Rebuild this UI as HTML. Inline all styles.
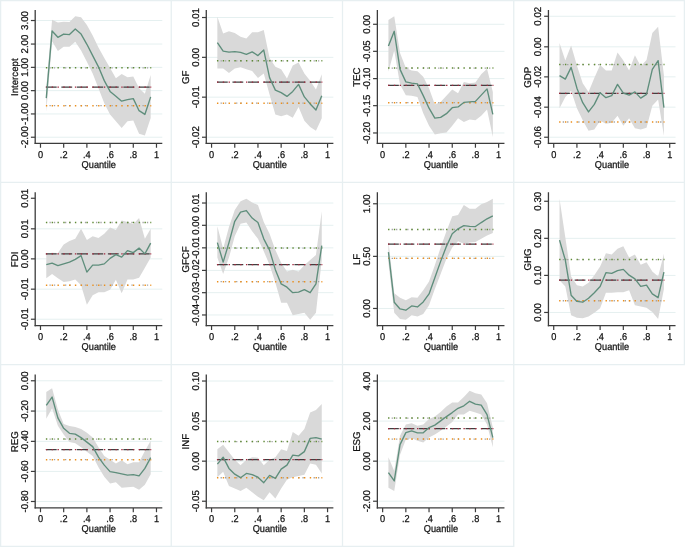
<!DOCTYPE html><html><head><meta charset="utf-8"><style>html,body{margin:0;padding:0;background:#fff;}svg{display:block}text{font-family:"Liberation Sans",Arial,Helvetica,sans-serif;fill:#111;stroke:#111;stroke-width:0.25px;text-rendering:geometricPrecision}</style></head><body>
<svg width="685" height="547" viewBox="0 0 685 547">
<rect width="685" height="547" fill="#fff"/>
<line x1="0.6" y1="0" x2="0.6" y2="547" stroke="#e7eff1" stroke-width="1.3"/>
<line x1="171.25" y1="0" x2="171.25" y2="547" stroke="#e7eff1" stroke-width="1.3"/>
<line x1="342.5" y1="0" x2="342.5" y2="547" stroke="#e7eff1" stroke-width="1.3"/>
<line x1="513.75" y1="0" x2="513.75" y2="547" stroke="#e7eff1" stroke-width="1.3"/>
<line x1="684.4" y1="0" x2="684.4" y2="364.67" stroke="#e7eff1" stroke-width="1.3"/>
<line x1="0" y1="0.6" x2="685" y2="0.6" stroke="#e7eff1" stroke-width="1.3"/>
<line x1="0" y1="182.33" x2="685" y2="182.33" stroke="#e7eff1" stroke-width="1.3"/>
<line x1="0" y1="364.67" x2="685" y2="364.67" stroke="#e7eff1" stroke-width="1.3"/>
<line x1="0" y1="546.3" x2="513.75" y2="546.3" stroke="#e7eff1" stroke-width="1.3"/>
<g>
<line x1="36.2" y1="20.52" x2="162.3" y2="20.52" stroke="#e5f0f0" stroke-width="1"/>
<line x1="36.2" y1="44.06" x2="162.3" y2="44.06" stroke="#e5f0f0" stroke-width="1"/>
<line x1="36.2" y1="67.35" x2="162.3" y2="67.35" stroke="#e5f0f0" stroke-width="1"/>
<line x1="36.2" y1="90.64" x2="162.3" y2="90.64" stroke="#e5f0f0" stroke-width="1"/>
<line x1="36.2" y1="113.94" x2="162.3" y2="113.94" stroke="#e5f0f0" stroke-width="1"/>
<line x1="36.2" y1="137.23" x2="162.3" y2="137.23" stroke="#e5f0f0" stroke-width="1"/>
<polygon fill="#d9d9d9" points="46.28,88.14 52.08,19.77 57.88,22.53 63.68,21.77 69.48,22.02 75.28,16.26 81.08,17.27 86.88,25.03 92.68,35.55 98.48,47.57 104.28,58.09 110.08,68.11 115.88,78.37 121.68,74.12 127.48,77.37 133.28,76.62 139.08,88.14 144.88,93.65 150.68,75.12 150.68,117.94 144.88,135.47 139.08,133.72 133.28,120.45 127.48,121.2 121.68,127.96 115.88,121.2 110.08,114.44 104.28,103.17 98.48,88.14 92.68,73.61 86.88,61.84 81.08,50.57 75.28,41.81 69.48,46.82 63.68,46.82 57.88,51.08 52.08,41.31 46.28,111.93"/>
<line x1="45.88" y1="67.85" x2="151.28" y2="67.85" stroke="#a2a2a2" stroke-width="1.4" stroke-dasharray="1.3 3.1 1.3 9.8" stroke-dashoffset="-3.6"/>
<line x1="45.88" y1="67.85" x2="151.28" y2="67.85" stroke="#5f8a36" stroke-width="1.5" stroke-dasharray="1.4 4.4"/>
<line x1="45.88" y1="105.67" x2="151.28" y2="105.67" stroke="#a2a2a2" stroke-width="1.4" stroke-dasharray="1.3 3.1 1.3 9.8" stroke-dashoffset="-3.6"/>
<line x1="45.88" y1="105.67" x2="151.28" y2="105.67" stroke="#ec8f1c" stroke-width="1.5" stroke-dasharray="1.4 4.4"/>
<line x1="45.88" y1="87.14" x2="151.28" y2="87.14" stroke="#404040" stroke-width="1.35" stroke-dasharray="10.8 4.7"/>
<line x1="45.88" y1="87.14" x2="151.28" y2="87.14" stroke="#a3283e" stroke-width="1.4" stroke-dasharray="1.4 4.4"/>
<polyline fill="none" stroke="#5f8e7c" stroke-width="1.35" stroke-linejoin="round" points="46.28,98.16 52.08,31.04 57.88,37.3 63.68,34.05 69.48,34.55 75.28,29.04 81.08,34.05 86.88,44.31 92.68,55.58 98.48,66.85 104.28,80.63 110.08,91.4 115.88,96.15 121.68,101.16 127.48,99.66 133.28,98.66 139.08,110.68 144.88,114.44 150.68,96.91"/>
<line x1="35.2" y1="10" x2="35.2" y2="144.05" stroke="#3c3c3c" stroke-width="1.3"/>
<line x1="34.6" y1="143.45" x2="162.3" y2="143.45" stroke="#3c3c3c" stroke-width="1.3"/>
<line x1="30.9" y1="20.52" x2="35.2" y2="20.52" stroke="#3c3c3c" stroke-width="1.2"/>
<text transform="translate(27.5,20.52) rotate(-90) scale(0.985,1)" text-anchor="middle" font-size="9.8">3.00</text>
<line x1="30.9" y1="44.06" x2="35.2" y2="44.06" stroke="#3c3c3c" stroke-width="1.2"/>
<text transform="translate(27.5,44.06) rotate(-90) scale(0.985,1)" text-anchor="middle" font-size="9.8">2.00</text>
<line x1="30.9" y1="67.35" x2="35.2" y2="67.35" stroke="#3c3c3c" stroke-width="1.2"/>
<text transform="translate(27.5,67.35) rotate(-90) scale(0.985,1)" text-anchor="middle" font-size="9.8">1.00</text>
<line x1="30.9" y1="90.64" x2="35.2" y2="90.64" stroke="#3c3c3c" stroke-width="1.2"/>
<text transform="translate(27.5,90.64) rotate(-90) scale(0.985,1)" text-anchor="middle" font-size="9.8">0.00</text>
<line x1="30.9" y1="113.94" x2="35.2" y2="113.94" stroke="#3c3c3c" stroke-width="1.2"/>
<text transform="translate(27.5,113.94) rotate(-90) scale(0.985,1)" text-anchor="middle" font-size="9.8">-1.00</text>
<line x1="30.9" y1="137.23" x2="35.2" y2="137.23" stroke="#3c3c3c" stroke-width="1.2"/>
<text transform="translate(27.5,137.23) rotate(-90) scale(0.985,1)" text-anchor="middle" font-size="9.8">-2.00</text>
<line x1="40.48" y1="143.45" x2="40.48" y2="147.75" stroke="#3c3c3c" stroke-width="1.2"/>
<text transform="translate(40.48,157.7) scale(0.92,1)" text-anchor="middle" font-size="10">0</text>
<line x1="63.68" y1="143.45" x2="63.68" y2="147.75" stroke="#3c3c3c" stroke-width="1.2"/>
<text transform="translate(63.68,157.7) scale(0.92,1)" text-anchor="middle" font-size="10">.2</text>
<line x1="86.88" y1="143.45" x2="86.88" y2="147.75" stroke="#3c3c3c" stroke-width="1.2"/>
<text transform="translate(86.88,157.7) scale(0.92,1)" text-anchor="middle" font-size="10">.4</text>
<line x1="110.08" y1="143.45" x2="110.08" y2="147.75" stroke="#3c3c3c" stroke-width="1.2"/>
<text transform="translate(110.08,157.7) scale(0.92,1)" text-anchor="middle" font-size="10">.6</text>
<line x1="133.28" y1="143.45" x2="133.28" y2="147.75" stroke="#3c3c3c" stroke-width="1.2"/>
<text transform="translate(133.28,157.7) scale(0.92,1)" text-anchor="middle" font-size="10">.8</text>
<line x1="156.48" y1="143.45" x2="156.48" y2="147.75" stroke="#3c3c3c" stroke-width="1.2"/>
<text transform="translate(156.48,157.7) scale(0.92,1)" text-anchor="middle" font-size="10">1</text>
<text transform="translate(98.75,168) scale(0.92,1)" text-anchor="middle" font-size="10">Quantile</text>
<text transform="translate(17.9,77.2) rotate(-90) scale(0.985,1)" text-anchor="middle" font-size="9.8">Intercept</text>
</g>
<g>
<line x1="207.28" y1="17.52" x2="333.38" y2="17.52" stroke="#e5f0f0" stroke-width="1"/>
<line x1="207.28" y1="57.34" x2="333.38" y2="57.34" stroke="#e5f0f0" stroke-width="1"/>
<line x1="207.28" y1="97.16" x2="333.38" y2="97.16" stroke="#e5f0f0" stroke-width="1"/>
<line x1="207.28" y1="137.23" x2="333.38" y2="137.23" stroke="#e5f0f0" stroke-width="1"/>
<polygon fill="#d9d9d9" points="217.36,16.77 223.16,33.54 228.96,31.29 234.76,33.04 240.56,36.8 246.36,38.55 252.16,32.29 257.96,32.29 263.76,30.04 269.56,58.09 275.36,66.85 281.16,69.36 286.96,78.62 292.76,65.6 298.56,62.6 304.36,73.61 310.16,80.63 315.96,89.39 321.76,74.37 321.76,118.19 315.96,130.71 310.16,126.96 304.36,120.7 298.56,106.92 292.76,117.69 286.96,114.44 281.16,116.19 275.36,114.44 269.56,94.4 263.76,73.61 257.96,78.12 252.16,71.11 246.36,69.36 240.56,67.35 234.76,68.61 228.96,73.11 223.16,68.61 217.36,68.61"/>
<line x1="216.96" y1="60.84" x2="322.36" y2="60.84" stroke="#a2a2a2" stroke-width="1.4" stroke-dasharray="1.3 3.1 1.3 9.8" stroke-dashoffset="-3.6"/>
<line x1="216.96" y1="60.84" x2="322.36" y2="60.84" stroke="#5f8a36" stroke-width="1.5" stroke-dasharray="1.4 4.4"/>
<line x1="216.96" y1="103.17" x2="322.36" y2="103.17" stroke="#a2a2a2" stroke-width="1.4" stroke-dasharray="1.3 3.1 1.3 9.8" stroke-dashoffset="-3.6"/>
<line x1="216.96" y1="103.17" x2="322.36" y2="103.17" stroke="#ec8f1c" stroke-width="1.5" stroke-dasharray="1.4 4.4"/>
<line x1="216.96" y1="82.13" x2="322.36" y2="82.13" stroke="#404040" stroke-width="1.35" stroke-dasharray="10.8 4.7"/>
<line x1="216.96" y1="82.13" x2="322.36" y2="82.13" stroke="#a3283e" stroke-width="1.4" stroke-dasharray="1.4 4.4"/>
<polyline fill="none" stroke="#5f8e7c" stroke-width="1.35" stroke-linejoin="round" points="217.36,42.56 223.16,51.08 228.96,52.08 234.76,51.58 240.56,52.33 246.36,54.33 252.16,51.83 257.96,55.58 263.76,50.07 269.56,77.62 275.36,90.14 281.16,92.65 286.96,96.4 292.76,91.4 298.56,84.38 304.36,96.91 310.16,103.92 315.96,109.93 321.76,95.65"/>
<line x1="206.28" y1="10" x2="206.28" y2="144.05" stroke="#3c3c3c" stroke-width="1.3"/>
<line x1="205.68" y1="143.45" x2="333.38" y2="143.45" stroke="#3c3c3c" stroke-width="1.3"/>
<line x1="201.98" y1="17.52" x2="206.28" y2="17.52" stroke="#3c3c3c" stroke-width="1.2"/>
<text transform="translate(198.58,17.52) rotate(-90) scale(0.985,1)" text-anchor="middle" font-size="9.8">0.01</text>
<line x1="201.98" y1="57.34" x2="206.28" y2="57.34" stroke="#3c3c3c" stroke-width="1.2"/>
<text transform="translate(198.58,57.34) rotate(-90) scale(0.985,1)" text-anchor="middle" font-size="9.8">0.00</text>
<line x1="201.98" y1="97.16" x2="206.28" y2="97.16" stroke="#3c3c3c" stroke-width="1.2"/>
<text transform="translate(198.58,97.16) rotate(-90) scale(0.985,1)" text-anchor="middle" font-size="9.8">-0.01</text>
<line x1="201.98" y1="137.23" x2="206.28" y2="137.23" stroke="#3c3c3c" stroke-width="1.2"/>
<text transform="translate(198.58,137.23) rotate(-90) scale(0.985,1)" text-anchor="middle" font-size="9.8">-0.02</text>
<line x1="211.56" y1="143.45" x2="211.56" y2="147.75" stroke="#3c3c3c" stroke-width="1.2"/>
<text transform="translate(211.56,157.7) scale(0.92,1)" text-anchor="middle" font-size="10">0</text>
<line x1="234.76" y1="143.45" x2="234.76" y2="147.75" stroke="#3c3c3c" stroke-width="1.2"/>
<text transform="translate(234.76,157.7) scale(0.92,1)" text-anchor="middle" font-size="10">.2</text>
<line x1="257.96" y1="143.45" x2="257.96" y2="147.75" stroke="#3c3c3c" stroke-width="1.2"/>
<text transform="translate(257.96,157.7) scale(0.92,1)" text-anchor="middle" font-size="10">.4</text>
<line x1="281.16" y1="143.45" x2="281.16" y2="147.75" stroke="#3c3c3c" stroke-width="1.2"/>
<text transform="translate(281.16,157.7) scale(0.92,1)" text-anchor="middle" font-size="10">.6</text>
<line x1="304.36" y1="143.45" x2="304.36" y2="147.75" stroke="#3c3c3c" stroke-width="1.2"/>
<text transform="translate(304.36,157.7) scale(0.92,1)" text-anchor="middle" font-size="10">.8</text>
<line x1="327.56" y1="143.45" x2="327.56" y2="147.75" stroke="#3c3c3c" stroke-width="1.2"/>
<text transform="translate(327.56,157.7) scale(0.92,1)" text-anchor="middle" font-size="10">1</text>
<text transform="translate(269.83,168) scale(0.92,1)" text-anchor="middle" font-size="10">Quantile</text>
<text transform="translate(188.98,77.2) rotate(-90) scale(0.985,1)" text-anchor="middle" font-size="9.8">GF</text>
</g>
<g>
<line x1="378.36" y1="24.28" x2="504.46" y2="24.28" stroke="#e5f0f0" stroke-width="1"/>
<line x1="378.36" y1="51.33" x2="504.46" y2="51.33" stroke="#e5f0f0" stroke-width="1"/>
<line x1="378.36" y1="78.62" x2="504.46" y2="78.62" stroke="#e5f0f0" stroke-width="1"/>
<line x1="378.36" y1="105.67" x2="504.46" y2="105.67" stroke="#e5f0f0" stroke-width="1"/>
<line x1="378.36" y1="132.97" x2="504.46" y2="132.97" stroke="#e5f0f0" stroke-width="1"/>
<polygon fill="#d9d9d9" points="388.44,20.02 394.24,16.26 400.04,53.08 405.84,68.11 411.64,70.61 417.44,71.36 423.24,76.87 429.04,88.14 434.84,104.42 440.64,101.91 446.44,95.65 452.24,89.39 458.04,93.15 463.84,81.88 469.64,83.13 475.44,82.38 481.24,74.37 487.04,68.86 492.84,91.9 492.84,136.98 487.04,109.43 481.24,115.69 475.44,120.2 469.64,119.45 463.84,121.95 458.04,118.19 452.24,125.71 446.44,132.47 440.64,133.22 434.84,134.47 429.04,125.71 423.24,113.18 417.44,96.91 411.64,95.65 405.84,95.15 400.04,84.38 394.24,50.57 388.44,71.86"/>
<line x1="388.04" y1="68.11" x2="493.44" y2="68.11" stroke="#a2a2a2" stroke-width="1.4" stroke-dasharray="1.3 3.1 1.3 9.8" stroke-dashoffset="-3.6"/>
<line x1="388.04" y1="68.11" x2="493.44" y2="68.11" stroke="#5f8a36" stroke-width="1.5" stroke-dasharray="1.4 4.4"/>
<line x1="388.04" y1="102.67" x2="493.44" y2="102.67" stroke="#a2a2a2" stroke-width="1.4" stroke-dasharray="1.3 3.1 1.3 9.8" stroke-dashoffset="-3.6"/>
<line x1="388.04" y1="102.67" x2="493.44" y2="102.67" stroke="#ec8f1c" stroke-width="1.5" stroke-dasharray="1.4 4.4"/>
<line x1="388.04" y1="85.39" x2="493.44" y2="85.39" stroke="#404040" stroke-width="1.35" stroke-dasharray="10.8 4.7"/>
<line x1="388.04" y1="85.39" x2="493.44" y2="85.39" stroke="#a3283e" stroke-width="1.4" stroke-dasharray="1.4 4.4"/>
<polyline fill="none" stroke="#5f8e7c" stroke-width="1.35" stroke-linejoin="round" points="388.44,46.07 394.24,31.29 400.04,69.36 405.84,81.88 411.64,83.13 417.44,83.88 423.24,95.65 429.04,108.18 434.84,118.19 440.64,117.44 446.44,113.68 452.24,107.67 458.04,106.92 463.84,102.42 469.64,101.91 475.44,101.41 481.24,95.15 487.04,88.89 492.84,114.44"/>
<line x1="377.36" y1="10" x2="377.36" y2="144.05" stroke="#3c3c3c" stroke-width="1.3"/>
<line x1="376.76" y1="143.45" x2="504.46" y2="143.45" stroke="#3c3c3c" stroke-width="1.3"/>
<line x1="373.06" y1="24.28" x2="377.36" y2="24.28" stroke="#3c3c3c" stroke-width="1.2"/>
<text transform="translate(369.66,24.28) rotate(-90) scale(0.985,1)" text-anchor="middle" font-size="9.8">0.00</text>
<line x1="373.06" y1="51.33" x2="377.36" y2="51.33" stroke="#3c3c3c" stroke-width="1.2"/>
<text transform="translate(369.66,51.33) rotate(-90) scale(0.985,1)" text-anchor="middle" font-size="9.8">-0.05</text>
<line x1="373.06" y1="78.62" x2="377.36" y2="78.62" stroke="#3c3c3c" stroke-width="1.2"/>
<text transform="translate(369.66,78.62) rotate(-90) scale(0.985,1)" text-anchor="middle" font-size="9.8">-0.10</text>
<line x1="373.06" y1="105.67" x2="377.36" y2="105.67" stroke="#3c3c3c" stroke-width="1.2"/>
<text transform="translate(369.66,105.67) rotate(-90) scale(0.985,1)" text-anchor="middle" font-size="9.8">-0.15</text>
<line x1="373.06" y1="132.97" x2="377.36" y2="132.97" stroke="#3c3c3c" stroke-width="1.2"/>
<text transform="translate(369.66,132.97) rotate(-90) scale(0.985,1)" text-anchor="middle" font-size="9.8">-0.20</text>
<line x1="382.64" y1="143.45" x2="382.64" y2="147.75" stroke="#3c3c3c" stroke-width="1.2"/>
<text transform="translate(382.64,157.7) scale(0.92,1)" text-anchor="middle" font-size="10">0</text>
<line x1="405.84" y1="143.45" x2="405.84" y2="147.75" stroke="#3c3c3c" stroke-width="1.2"/>
<text transform="translate(405.84,157.7) scale(0.92,1)" text-anchor="middle" font-size="10">.2</text>
<line x1="429.04" y1="143.45" x2="429.04" y2="147.75" stroke="#3c3c3c" stroke-width="1.2"/>
<text transform="translate(429.04,157.7) scale(0.92,1)" text-anchor="middle" font-size="10">.4</text>
<line x1="452.24" y1="143.45" x2="452.24" y2="147.75" stroke="#3c3c3c" stroke-width="1.2"/>
<text transform="translate(452.24,157.7) scale(0.92,1)" text-anchor="middle" font-size="10">.6</text>
<line x1="475.44" y1="143.45" x2="475.44" y2="147.75" stroke="#3c3c3c" stroke-width="1.2"/>
<text transform="translate(475.44,157.7) scale(0.92,1)" text-anchor="middle" font-size="10">.8</text>
<line x1="498.64" y1="143.45" x2="498.64" y2="147.75" stroke="#3c3c3c" stroke-width="1.2"/>
<text transform="translate(498.64,157.7) scale(0.92,1)" text-anchor="middle" font-size="10">1</text>
<text transform="translate(440.91,168) scale(0.92,1)" text-anchor="middle" font-size="10">Quantile</text>
<text transform="translate(360.06,77.2) rotate(-90) scale(0.985,1)" text-anchor="middle" font-size="9.8">TEC</text>
</g>
<g>
<line x1="549.44" y1="16.26" x2="675.54" y2="16.26" stroke="#e5f0f0" stroke-width="1"/>
<line x1="549.44" y1="46.82" x2="675.54" y2="46.82" stroke="#e5f0f0" stroke-width="1"/>
<line x1="549.44" y1="76.87" x2="675.54" y2="76.87" stroke="#e5f0f0" stroke-width="1"/>
<line x1="549.44" y1="107.17" x2="675.54" y2="107.17" stroke="#e5f0f0" stroke-width="1"/>
<line x1="549.44" y1="137.23" x2="675.54" y2="137.23" stroke="#e5f0f0" stroke-width="1"/>
<polygon fill="#d9d9d9" points="559.52,43.06 565.32,60.59 571.12,45.57 576.92,65.6 582.72,83.13 588.52,91.9 594.32,78.12 600.12,65.1 605.92,70.61 611.72,70.61 617.52,52.58 623.32,60.59 629.12,70.61 634.92,55.33 640.72,66.35 646.52,60.09 652.32,33.04 658.12,26.78 663.92,75.62 663.92,135.72 658.12,99.41 652.32,105.67 646.52,127.71 640.72,129.46 634.92,128.21 629.12,118.19 623.32,125.71 617.52,115.69 611.72,122.7 605.92,123.7 600.12,120.7 594.32,129.46 588.52,130.71 582.72,120.2 576.92,108.18 571.12,90.64 565.32,96.91 559.52,108.18"/>
<line x1="559.12" y1="64.6" x2="664.52" y2="64.6" stroke="#a2a2a2" stroke-width="1.4" stroke-dasharray="1.3 3.1 1.3 9.8" stroke-dashoffset="-3.6"/>
<line x1="559.12" y1="64.6" x2="664.52" y2="64.6" stroke="#5f8a36" stroke-width="1.5" stroke-dasharray="1.4 4.4"/>
<line x1="559.12" y1="121.95" x2="664.52" y2="121.95" stroke="#a2a2a2" stroke-width="1.4" stroke-dasharray="1.3 3.1 1.3 9.8" stroke-dashoffset="-3.6"/>
<line x1="559.12" y1="121.95" x2="664.52" y2="121.95" stroke="#ec8f1c" stroke-width="1.5" stroke-dasharray="1.4 4.4"/>
<line x1="559.12" y1="93.4" x2="664.52" y2="93.4" stroke="#404040" stroke-width="1.35" stroke-dasharray="10.8 4.7"/>
<line x1="559.12" y1="93.4" x2="664.52" y2="93.4" stroke="#a3283e" stroke-width="1.4" stroke-dasharray="1.4 4.4"/>
<polyline fill="none" stroke="#5f8e7c" stroke-width="1.35" stroke-linejoin="round" points="559.52,75.62 565.32,79.12 571.12,67.35 576.92,88.14 582.72,102.67 588.52,111.93 594.32,104.42 600.12,92.65 605.92,97.66 611.72,95.65 617.52,84.38 623.32,93.15 629.12,95.15 634.92,91.9 640.72,98.16 646.52,94.4 652.32,69.36 658.12,60.59 663.92,107.67"/>
<line x1="548.44" y1="10" x2="548.44" y2="144.05" stroke="#3c3c3c" stroke-width="1.3"/>
<line x1="547.84" y1="143.45" x2="675.54" y2="143.45" stroke="#3c3c3c" stroke-width="1.3"/>
<line x1="544.14" y1="16.26" x2="548.44" y2="16.26" stroke="#3c3c3c" stroke-width="1.2"/>
<text transform="translate(540.74,16.26) rotate(-90) scale(0.985,1)" text-anchor="middle" font-size="9.8">0.02</text>
<line x1="544.14" y1="46.82" x2="548.44" y2="46.82" stroke="#3c3c3c" stroke-width="1.2"/>
<text transform="translate(540.74,46.82) rotate(-90) scale(0.985,1)" text-anchor="middle" font-size="9.8">0.00</text>
<line x1="544.14" y1="76.87" x2="548.44" y2="76.87" stroke="#3c3c3c" stroke-width="1.2"/>
<text transform="translate(540.74,76.87) rotate(-90) scale(0.985,1)" text-anchor="middle" font-size="9.8">-0.02</text>
<line x1="544.14" y1="107.17" x2="548.44" y2="107.17" stroke="#3c3c3c" stroke-width="1.2"/>
<text transform="translate(540.74,107.17) rotate(-90) scale(0.985,1)" text-anchor="middle" font-size="9.8">-0.04</text>
<line x1="544.14" y1="137.23" x2="548.44" y2="137.23" stroke="#3c3c3c" stroke-width="1.2"/>
<text transform="translate(540.74,137.23) rotate(-90) scale(0.985,1)" text-anchor="middle" font-size="9.8">-0.06</text>
<line x1="553.72" y1="143.45" x2="553.72" y2="147.75" stroke="#3c3c3c" stroke-width="1.2"/>
<text transform="translate(553.72,157.7) scale(0.92,1)" text-anchor="middle" font-size="10">0</text>
<line x1="576.92" y1="143.45" x2="576.92" y2="147.75" stroke="#3c3c3c" stroke-width="1.2"/>
<text transform="translate(576.92,157.7) scale(0.92,1)" text-anchor="middle" font-size="10">.2</text>
<line x1="600.12" y1="143.45" x2="600.12" y2="147.75" stroke="#3c3c3c" stroke-width="1.2"/>
<text transform="translate(600.12,157.7) scale(0.92,1)" text-anchor="middle" font-size="10">.4</text>
<line x1="623.32" y1="143.45" x2="623.32" y2="147.75" stroke="#3c3c3c" stroke-width="1.2"/>
<text transform="translate(623.32,157.7) scale(0.92,1)" text-anchor="middle" font-size="10">.6</text>
<line x1="646.52" y1="143.45" x2="646.52" y2="147.75" stroke="#3c3c3c" stroke-width="1.2"/>
<text transform="translate(646.52,157.7) scale(0.92,1)" text-anchor="middle" font-size="10">.8</text>
<line x1="669.72" y1="143.45" x2="669.72" y2="147.75" stroke="#3c3c3c" stroke-width="1.2"/>
<text transform="translate(669.72,157.7) scale(0.92,1)" text-anchor="middle" font-size="10">1</text>
<text transform="translate(611.99,168) scale(0.92,1)" text-anchor="middle" font-size="10">Quantile</text>
<text transform="translate(531.14,77.2) rotate(-90) scale(0.985,1)" text-anchor="middle" font-size="9.8">GDP</text>
</g>
<g>
<line x1="36.2" y1="228.82" x2="162.3" y2="228.82" stroke="#e5f0f0" stroke-width="1"/>
<line x1="36.2" y1="258.87" x2="162.3" y2="258.87" stroke="#e5f0f0" stroke-width="1"/>
<line x1="36.2" y1="289.17" x2="162.3" y2="289.17" stroke="#e5f0f0" stroke-width="1"/>
<line x1="36.2" y1="319.23" x2="162.3" y2="319.23" stroke="#e5f0f0" stroke-width="1"/>
<polygon fill="#d9d9d9" points="46.28,253.86 52.08,252.86 57.88,253.11 63.68,244.6 69.48,241.09 75.28,238.84 81.08,228.82 86.88,240.09 92.68,236.33 98.48,238.08 104.28,233.83 110.08,227.57 115.88,230.07 121.68,220.55 127.48,222.06 133.28,224.31 139.08,218.05 144.88,238.84 150.68,228.82 150.68,257.62 144.88,267.64 139.08,277.65 133.28,279.41 127.48,279.41 121.68,293.18 115.88,279.66 110.08,289.67 104.28,292.18 98.48,292.18 92.68,295.18 86.88,304.7 81.08,285.17 75.28,279.41 69.48,281.16 63.68,281.91 57.88,278.15 52.08,273.9 46.28,278.15"/>
<line x1="45.88" y1="222.56" x2="151.28" y2="222.56" stroke="#a2a2a2" stroke-width="1.4" stroke-dasharray="1.3 3.1 1.3 9.8" stroke-dashoffset="-3.6"/>
<line x1="45.88" y1="222.56" x2="151.28" y2="222.56" stroke="#5f8a36" stroke-width="1.5" stroke-dasharray="1.4 4.4"/>
<line x1="45.88" y1="285.17" x2="151.28" y2="285.17" stroke="#a2a2a2" stroke-width="1.4" stroke-dasharray="1.3 3.1 1.3 9.8" stroke-dashoffset="-3.6"/>
<line x1="45.88" y1="285.17" x2="151.28" y2="285.17" stroke="#ec8f1c" stroke-width="1.5" stroke-dasharray="1.4 4.4"/>
<line x1="45.88" y1="253.86" x2="151.28" y2="253.86" stroke="#404040" stroke-width="1.35" stroke-dasharray="10.8 4.7"/>
<line x1="45.88" y1="253.86" x2="151.28" y2="253.86" stroke="#a3283e" stroke-width="1.4" stroke-dasharray="1.4 4.4"/>
<polyline fill="none" stroke="#5f8e7c" stroke-width="1.35" stroke-linejoin="round" points="46.28,264.63 52.08,263.13 57.88,265.63 63.68,263.88 69.48,262.13 75.28,259.37 81.08,255.61 86.88,272.14 92.68,265.13 98.48,265.13 104.28,263.88 110.08,258.37 115.88,254.61 121.68,257.12 127.48,250.61 133.28,252.61 139.08,248.1 144.88,253.86 150.68,243.09"/>
<line x1="35.2" y1="192.24" x2="35.2" y2="326.29" stroke="#3c3c3c" stroke-width="1.3"/>
<line x1="34.6" y1="325.69" x2="162.3" y2="325.69" stroke="#3c3c3c" stroke-width="1.3"/>
<line x1="30.9" y1="198.26" x2="35.2" y2="198.26" stroke="#3c3c3c" stroke-width="1.2"/>
<text transform="translate(27.5,198.26) rotate(-90) scale(0.985,1)" text-anchor="middle" font-size="9.8">0.01</text>
<line x1="30.9" y1="228.82" x2="35.2" y2="228.82" stroke="#3c3c3c" stroke-width="1.2"/>
<text transform="translate(27.5,228.82) rotate(-90) scale(0.985,1)" text-anchor="middle" font-size="9.8">0.01</text>
<line x1="30.9" y1="258.87" x2="35.2" y2="258.87" stroke="#3c3c3c" stroke-width="1.2"/>
<text transform="translate(27.5,258.87) rotate(-90) scale(0.985,1)" text-anchor="middle" font-size="9.8">0.00</text>
<line x1="30.9" y1="289.17" x2="35.2" y2="289.17" stroke="#3c3c3c" stroke-width="1.2"/>
<text transform="translate(27.5,289.17) rotate(-90) scale(0.985,1)" text-anchor="middle" font-size="9.8">-0.01</text>
<line x1="30.9" y1="319.23" x2="35.2" y2="319.23" stroke="#3c3c3c" stroke-width="1.2"/>
<text transform="translate(27.5,319.23) rotate(-90) scale(0.985,1)" text-anchor="middle" font-size="9.8">-0.01</text>
<line x1="40.48" y1="325.69" x2="40.48" y2="329.99" stroke="#3c3c3c" stroke-width="1.2"/>
<text transform="translate(40.48,339.94) scale(0.92,1)" text-anchor="middle" font-size="10">0</text>
<line x1="63.68" y1="325.69" x2="63.68" y2="329.99" stroke="#3c3c3c" stroke-width="1.2"/>
<text transform="translate(63.68,339.94) scale(0.92,1)" text-anchor="middle" font-size="10">.2</text>
<line x1="86.88" y1="325.69" x2="86.88" y2="329.99" stroke="#3c3c3c" stroke-width="1.2"/>
<text transform="translate(86.88,339.94) scale(0.92,1)" text-anchor="middle" font-size="10">.4</text>
<line x1="110.08" y1="325.69" x2="110.08" y2="329.99" stroke="#3c3c3c" stroke-width="1.2"/>
<text transform="translate(110.08,339.94) scale(0.92,1)" text-anchor="middle" font-size="10">.6</text>
<line x1="133.28" y1="325.69" x2="133.28" y2="329.99" stroke="#3c3c3c" stroke-width="1.2"/>
<text transform="translate(133.28,339.94) scale(0.92,1)" text-anchor="middle" font-size="10">.8</text>
<line x1="156.48" y1="325.69" x2="156.48" y2="329.99" stroke="#3c3c3c" stroke-width="1.2"/>
<text transform="translate(156.48,339.94) scale(0.92,1)" text-anchor="middle" font-size="10">1</text>
<text transform="translate(98.75,350.24) scale(0.92,1)" text-anchor="middle" font-size="10">Quantile</text>
<text transform="translate(17.9,259.44) rotate(-90) scale(0.985,1)" text-anchor="middle" font-size="9.8">FDI</text>
</g>
<g>
<line x1="207.28" y1="203.02" x2="333.38" y2="203.02" stroke="#e5f0f0" stroke-width="1"/>
<line x1="207.28" y1="225.31" x2="333.38" y2="225.31" stroke="#e5f0f0" stroke-width="1"/>
<line x1="207.28" y1="247.85" x2="333.38" y2="247.85" stroke="#e5f0f0" stroke-width="1"/>
<line x1="207.28" y1="270.39" x2="333.38" y2="270.39" stroke="#e5f0f0" stroke-width="1"/>
<line x1="207.28" y1="292.68" x2="333.38" y2="292.68" stroke="#e5f0f0" stroke-width="1"/>
<line x1="207.28" y1="314.97" x2="333.38" y2="314.97" stroke="#e5f0f0" stroke-width="1"/>
<polygon fill="#d9d9d9" points="217.36,226.31 223.16,248.85 228.96,227.06 234.76,210.04 240.56,201.27 246.36,198.77 252.16,202.52 257.96,205.03 263.76,222.06 269.56,233.83 275.36,250.11 281.16,262.63 286.96,271.39 292.76,269.64 298.56,271.39 304.36,265.13 310.16,260.12 315.96,255.11 321.76,211.29 321.76,260.12 315.96,312.71 310.16,319.73 304.36,312.71 298.56,313.97 292.76,315.22 286.96,302.7 281.16,302.7 275.36,282.66 269.56,264.63 263.76,251.36 257.96,238.84 252.16,231.32 246.36,222.56 240.56,223.81 234.76,236.33 228.96,257.62 223.16,273.9 217.36,257.62"/>
<line x1="216.96" y1="248.1" x2="322.36" y2="248.1" stroke="#a2a2a2" stroke-width="1.4" stroke-dasharray="1.3 3.1 1.3 9.8" stroke-dashoffset="-3.6"/>
<line x1="216.96" y1="248.1" x2="322.36" y2="248.1" stroke="#5f8a36" stroke-width="1.5" stroke-dasharray="1.4 4.4"/>
<line x1="216.96" y1="281.66" x2="322.36" y2="281.66" stroke="#a2a2a2" stroke-width="1.4" stroke-dasharray="1.3 3.1 1.3 9.8" stroke-dashoffset="-3.6"/>
<line x1="216.96" y1="281.66" x2="322.36" y2="281.66" stroke="#ec8f1c" stroke-width="1.5" stroke-dasharray="1.4 4.4"/>
<line x1="216.96" y1="264.63" x2="322.36" y2="264.63" stroke="#404040" stroke-width="1.35" stroke-dasharray="10.8 4.7"/>
<line x1="216.96" y1="264.63" x2="322.36" y2="264.63" stroke="#a3283e" stroke-width="1.4" stroke-dasharray="1.4 4.4"/>
<polyline fill="none" stroke="#5f8e7c" stroke-width="1.35" stroke-linejoin="round" points="217.36,242.59 223.16,262.13 228.96,242.59 234.76,221.3 240.56,212.04 246.36,210.54 252.16,218.05 257.96,222.56 263.76,238.84 269.56,250.11 275.36,269.64 281.16,283.91 286.96,287.17 292.76,292.68 298.56,292.18 304.36,289.67 310.16,292.68 315.96,283.91 321.76,245.6"/>
<line x1="206.28" y1="192.24" x2="206.28" y2="326.29" stroke="#3c3c3c" stroke-width="1.3"/>
<line x1="205.68" y1="325.69" x2="333.38" y2="325.69" stroke="#3c3c3c" stroke-width="1.3"/>
<line x1="201.98" y1="203.02" x2="206.28" y2="203.02" stroke="#3c3c3c" stroke-width="1.2"/>
<text transform="translate(198.58,203.02) rotate(-90) scale(0.985,1)" text-anchor="middle" font-size="9.8">0.01</text>
<line x1="201.98" y1="225.31" x2="206.28" y2="225.31" stroke="#3c3c3c" stroke-width="1.2"/>
<text transform="translate(198.58,225.31) rotate(-90) scale(0.985,1)" text-anchor="middle" font-size="9.8">0.00</text>
<line x1="201.98" y1="247.85" x2="206.28" y2="247.85" stroke="#3c3c3c" stroke-width="1.2"/>
<text transform="translate(198.58,247.85) rotate(-90) scale(0.985,1)" text-anchor="middle" font-size="9.8">-0.01</text>
<line x1="201.98" y1="270.39" x2="206.28" y2="270.39" stroke="#3c3c3c" stroke-width="1.2"/>
<text transform="translate(198.58,270.39) rotate(-90) scale(0.985,1)" text-anchor="middle" font-size="9.8">-0.02</text>
<line x1="201.98" y1="292.68" x2="206.28" y2="292.68" stroke="#3c3c3c" stroke-width="1.2"/>
<text transform="translate(198.58,292.68) rotate(-90) scale(0.985,1)" text-anchor="middle" font-size="9.8">-0.03</text>
<line x1="201.98" y1="314.97" x2="206.28" y2="314.97" stroke="#3c3c3c" stroke-width="1.2"/>
<text transform="translate(198.58,314.97) rotate(-90) scale(0.985,1)" text-anchor="middle" font-size="9.8">-0.04</text>
<line x1="211.56" y1="325.69" x2="211.56" y2="329.99" stroke="#3c3c3c" stroke-width="1.2"/>
<text transform="translate(211.56,339.94) scale(0.92,1)" text-anchor="middle" font-size="10">0</text>
<line x1="234.76" y1="325.69" x2="234.76" y2="329.99" stroke="#3c3c3c" stroke-width="1.2"/>
<text transform="translate(234.76,339.94) scale(0.92,1)" text-anchor="middle" font-size="10">.2</text>
<line x1="257.96" y1="325.69" x2="257.96" y2="329.99" stroke="#3c3c3c" stroke-width="1.2"/>
<text transform="translate(257.96,339.94) scale(0.92,1)" text-anchor="middle" font-size="10">.4</text>
<line x1="281.16" y1="325.69" x2="281.16" y2="329.99" stroke="#3c3c3c" stroke-width="1.2"/>
<text transform="translate(281.16,339.94) scale(0.92,1)" text-anchor="middle" font-size="10">.6</text>
<line x1="304.36" y1="325.69" x2="304.36" y2="329.99" stroke="#3c3c3c" stroke-width="1.2"/>
<text transform="translate(304.36,339.94) scale(0.92,1)" text-anchor="middle" font-size="10">.8</text>
<line x1="327.56" y1="325.69" x2="327.56" y2="329.99" stroke="#3c3c3c" stroke-width="1.2"/>
<text transform="translate(327.56,339.94) scale(0.92,1)" text-anchor="middle" font-size="10">1</text>
<text transform="translate(269.83,350.24) scale(0.92,1)" text-anchor="middle" font-size="10">Quantile</text>
<text transform="translate(188.98,259.44) rotate(-90) scale(0.985,1)" text-anchor="middle" font-size="9.8">GFCF</text>
</g>
<g>
<line x1="378.36" y1="203.77" x2="504.46" y2="203.77" stroke="#e5f0f0" stroke-width="1"/>
<line x1="378.36" y1="256.37" x2="504.46" y2="256.37" stroke="#e5f0f0" stroke-width="1"/>
<line x1="378.36" y1="308.46" x2="504.46" y2="308.46" stroke="#e5f0f0" stroke-width="1"/>
<polygon fill="#d9d9d9" points="388.44,241.34 394.24,293.18 400.04,297.69 405.84,300.19 411.64,297.19 417.44,297.69 423.24,290.18 429.04,281.41 434.84,265.13 440.64,247.6 446.44,231.32 452.24,216.3 458.04,215.04 463.84,205.03 469.64,208.78 475.44,208.78 481.24,204.27 487.04,202.02 492.84,198.77 492.84,233.08 487.04,235.58 481.24,238.84 475.44,242.09 469.64,242.59 463.84,243.84 458.04,241.34 452.24,247.6 446.44,258.87 440.64,273.9 434.84,288.92 429.04,305.2 423.24,313.97 417.44,316.47 411.64,315.22 405.84,319.73 400.04,318.98 394.24,312.71 388.44,262.63"/>
<line x1="388.04" y1="229.57" x2="493.44" y2="229.57" stroke="#a2a2a2" stroke-width="1.4" stroke-dasharray="1.3 3.1 1.3 9.8" stroke-dashoffset="-3.6"/>
<line x1="388.04" y1="229.57" x2="493.44" y2="229.57" stroke="#5f8a36" stroke-width="1.5" stroke-dasharray="1.4 4.4"/>
<line x1="388.04" y1="258.37" x2="493.44" y2="258.37" stroke="#a2a2a2" stroke-width="1.4" stroke-dasharray="1.3 3.1 1.3 9.8" stroke-dashoffset="-3.6"/>
<line x1="388.04" y1="258.37" x2="493.44" y2="258.37" stroke="#ec8f1c" stroke-width="1.5" stroke-dasharray="1.4 4.4"/>
<line x1="388.04" y1="244.09" x2="493.44" y2="244.09" stroke="#404040" stroke-width="1.35" stroke-dasharray="10.8 4.7"/>
<line x1="388.04" y1="244.09" x2="493.44" y2="244.09" stroke="#a3283e" stroke-width="1.4" stroke-dasharray="1.4 4.4"/>
<polyline fill="none" stroke="#5f8e7c" stroke-width="1.35" stroke-linejoin="round" points="388.44,252.11 394.24,302.2 400.04,308.96 405.84,310.21 411.64,305.95 417.44,306.95 423.24,301.95 429.04,293.93 434.84,277.65 440.64,261.37 446.44,246.35 452.24,233.83 458.04,228.82 463.84,225.56 469.64,226.31 475.44,226.56 481.24,222.56 487.04,218.8 492.84,215.8"/>
<line x1="377.36" y1="192.24" x2="377.36" y2="326.29" stroke="#3c3c3c" stroke-width="1.3"/>
<line x1="376.76" y1="325.69" x2="504.46" y2="325.69" stroke="#3c3c3c" stroke-width="1.3"/>
<line x1="373.06" y1="203.77" x2="377.36" y2="203.77" stroke="#3c3c3c" stroke-width="1.2"/>
<text transform="translate(369.66,203.77) rotate(-90) scale(0.985,1)" text-anchor="middle" font-size="9.8">1.00</text>
<line x1="373.06" y1="256.37" x2="377.36" y2="256.37" stroke="#3c3c3c" stroke-width="1.2"/>
<text transform="translate(369.66,256.37) rotate(-90) scale(0.985,1)" text-anchor="middle" font-size="9.8">0.50</text>
<line x1="373.06" y1="308.46" x2="377.36" y2="308.46" stroke="#3c3c3c" stroke-width="1.2"/>
<text transform="translate(369.66,308.46) rotate(-90) scale(0.985,1)" text-anchor="middle" font-size="9.8">0.00</text>
<line x1="382.64" y1="325.69" x2="382.64" y2="329.99" stroke="#3c3c3c" stroke-width="1.2"/>
<text transform="translate(382.64,339.94) scale(0.92,1)" text-anchor="middle" font-size="10">0</text>
<line x1="405.84" y1="325.69" x2="405.84" y2="329.99" stroke="#3c3c3c" stroke-width="1.2"/>
<text transform="translate(405.84,339.94) scale(0.92,1)" text-anchor="middle" font-size="10">.2</text>
<line x1="429.04" y1="325.69" x2="429.04" y2="329.99" stroke="#3c3c3c" stroke-width="1.2"/>
<text transform="translate(429.04,339.94) scale(0.92,1)" text-anchor="middle" font-size="10">.4</text>
<line x1="452.24" y1="325.69" x2="452.24" y2="329.99" stroke="#3c3c3c" stroke-width="1.2"/>
<text transform="translate(452.24,339.94) scale(0.92,1)" text-anchor="middle" font-size="10">.6</text>
<line x1="475.44" y1="325.69" x2="475.44" y2="329.99" stroke="#3c3c3c" stroke-width="1.2"/>
<text transform="translate(475.44,339.94) scale(0.92,1)" text-anchor="middle" font-size="10">.8</text>
<line x1="498.64" y1="325.69" x2="498.64" y2="329.99" stroke="#3c3c3c" stroke-width="1.2"/>
<text transform="translate(498.64,339.94) scale(0.92,1)" text-anchor="middle" font-size="10">1</text>
<text transform="translate(440.91,350.24) scale(0.92,1)" text-anchor="middle" font-size="10">Quantile</text>
<text transform="translate(360.06,259.44) rotate(-90) scale(0.985,1)" text-anchor="middle" font-size="9.8">LF</text>
</g>
<g>
<line x1="549.44" y1="201.27" x2="675.54" y2="201.27" stroke="#e5f0f0" stroke-width="1"/>
<line x1="549.44" y1="238.33" x2="675.54" y2="238.33" stroke="#e5f0f0" stroke-width="1"/>
<line x1="549.44" y1="275.4" x2="675.54" y2="275.4" stroke="#e5f0f0" stroke-width="1"/>
<line x1="549.44" y1="312.46" x2="675.54" y2="312.46" stroke="#e5f0f0" stroke-width="1"/>
<polygon fill="#d9d9d9" points="559.52,198.77 565.32,237.58 571.12,276.4 576.92,285.17 582.72,286.42 588.52,282.66 594.32,275.15 600.12,266.38 605.92,253.36 611.72,254.61 617.52,248.85 623.32,246.35 629.12,257.62 634.92,254.61 640.72,264.63 646.52,262.13 652.32,271.39 658.12,276.4 663.92,253.86 663.92,288.92 658.12,318.98 652.32,311.96 646.52,307.71 640.72,306.45 634.92,305.2 629.12,290.18 623.32,292.18 617.52,292.18 611.72,292.68 605.92,292.68 600.12,308.21 594.32,312.71 588.52,316.47 582.72,318.22 576.92,317.72 571.12,315.22 565.32,286.42 559.52,280.16"/>
<line x1="559.12" y1="259.62" x2="664.52" y2="259.62" stroke="#a2a2a2" stroke-width="1.4" stroke-dasharray="1.3 3.1 1.3 9.8" stroke-dashoffset="-3.6"/>
<line x1="559.12" y1="259.62" x2="664.52" y2="259.62" stroke="#5f8a36" stroke-width="1.5" stroke-dasharray="1.4 4.4"/>
<line x1="559.12" y1="300.69" x2="664.52" y2="300.69" stroke="#a2a2a2" stroke-width="1.4" stroke-dasharray="1.3 3.1 1.3 9.8" stroke-dashoffset="-3.6"/>
<line x1="559.12" y1="300.69" x2="664.52" y2="300.69" stroke="#ec8f1c" stroke-width="1.5" stroke-dasharray="1.4 4.4"/>
<line x1="559.12" y1="280.16" x2="664.52" y2="280.16" stroke="#404040" stroke-width="1.35" stroke-dasharray="10.8 4.7"/>
<line x1="559.12" y1="280.16" x2="664.52" y2="280.16" stroke="#a3283e" stroke-width="1.4" stroke-dasharray="1.4 4.4"/>
<polyline fill="none" stroke="#5f8e7c" stroke-width="1.35" stroke-linejoin="round" points="559.52,240.09 565.32,260.12 571.12,295.18 576.92,301.45 582.72,302.2 588.52,298.19 594.32,292.68 600.12,286.42 605.92,272.64 611.72,273.4 617.52,270.64 623.32,269.39 629.12,275.15 634.92,278.91 640.72,286.42 646.52,285.17 652.32,293.93 658.12,297.69 663.92,272.14"/>
<line x1="548.44" y1="192.24" x2="548.44" y2="326.29" stroke="#3c3c3c" stroke-width="1.3"/>
<line x1="547.84" y1="325.69" x2="675.54" y2="325.69" stroke="#3c3c3c" stroke-width="1.3"/>
<line x1="544.14" y1="201.27" x2="548.44" y2="201.27" stroke="#3c3c3c" stroke-width="1.2"/>
<text transform="translate(540.74,201.27) rotate(-90) scale(0.985,1)" text-anchor="middle" font-size="9.8">0.30</text>
<line x1="544.14" y1="238.33" x2="548.44" y2="238.33" stroke="#3c3c3c" stroke-width="1.2"/>
<text transform="translate(540.74,238.33) rotate(-90) scale(0.985,1)" text-anchor="middle" font-size="9.8">0.20</text>
<line x1="544.14" y1="275.4" x2="548.44" y2="275.4" stroke="#3c3c3c" stroke-width="1.2"/>
<text transform="translate(540.74,275.4) rotate(-90) scale(0.985,1)" text-anchor="middle" font-size="9.8">0.10</text>
<line x1="544.14" y1="312.46" x2="548.44" y2="312.46" stroke="#3c3c3c" stroke-width="1.2"/>
<text transform="translate(540.74,312.46) rotate(-90) scale(0.985,1)" text-anchor="middle" font-size="9.8">0.00</text>
<line x1="553.72" y1="325.69" x2="553.72" y2="329.99" stroke="#3c3c3c" stroke-width="1.2"/>
<text transform="translate(553.72,339.94) scale(0.92,1)" text-anchor="middle" font-size="10">0</text>
<line x1="576.92" y1="325.69" x2="576.92" y2="329.99" stroke="#3c3c3c" stroke-width="1.2"/>
<text transform="translate(576.92,339.94) scale(0.92,1)" text-anchor="middle" font-size="10">.2</text>
<line x1="600.12" y1="325.69" x2="600.12" y2="329.99" stroke="#3c3c3c" stroke-width="1.2"/>
<text transform="translate(600.12,339.94) scale(0.92,1)" text-anchor="middle" font-size="10">.4</text>
<line x1="623.32" y1="325.69" x2="623.32" y2="329.99" stroke="#3c3c3c" stroke-width="1.2"/>
<text transform="translate(623.32,339.94) scale(0.92,1)" text-anchor="middle" font-size="10">.6</text>
<line x1="646.52" y1="325.69" x2="646.52" y2="329.99" stroke="#3c3c3c" stroke-width="1.2"/>
<text transform="translate(646.52,339.94) scale(0.92,1)" text-anchor="middle" font-size="10">.8</text>
<line x1="669.72" y1="325.69" x2="669.72" y2="329.99" stroke="#3c3c3c" stroke-width="1.2"/>
<text transform="translate(669.72,339.94) scale(0.92,1)" text-anchor="middle" font-size="10">1</text>
<text transform="translate(611.99,350.24) scale(0.92,1)" text-anchor="middle" font-size="10">Quantile</text>
<text transform="translate(531.14,259.44) rotate(-90) scale(0.985,1)" text-anchor="middle" font-size="9.8">GHG</text>
</g>
<g>
<line x1="36.2" y1="380.77" x2="162.3" y2="380.77" stroke="#e5f0f0" stroke-width="1"/>
<line x1="36.2" y1="411.07" x2="162.3" y2="411.07" stroke="#e5f0f0" stroke-width="1"/>
<line x1="36.2" y1="441.37" x2="162.3" y2="441.37" stroke="#e5f0f0" stroke-width="1"/>
<line x1="36.2" y1="471.42" x2="162.3" y2="471.42" stroke="#e5f0f0" stroke-width="1"/>
<line x1="36.2" y1="501.48" x2="162.3" y2="501.48" stroke="#e5f0f0" stroke-width="1"/>
<polygon fill="#d9d9d9" points="46.28,392.04 52.08,388.28 57.88,409.57 63.68,424.09 69.48,426.09 75.28,427.1 81.08,429.1 86.88,432.86 92.68,437.61 98.48,447.13 104.28,455.9 110.08,459.65 115.88,463.41 121.68,460.15 127.48,464.16 133.28,462.16 139.08,462.16 144.88,450.89 150.68,440.87 150.68,474.18 144.88,484.7 139.08,489.71 133.28,486.7 127.48,487.2 121.68,487.7 115.88,482.19 110.08,483.45 104.28,476.68 98.48,467.17 92.68,455.9 86.88,451.64 81.08,447.13 75.28,443.37 69.48,442.12 63.68,434.61 57.88,425.84 52.08,408.31 46.28,418.83"/>
<line x1="45.88" y1="439.12" x2="151.28" y2="439.12" stroke="#a2a2a2" stroke-width="1.4" stroke-dasharray="1.3 3.1 1.3 9.8" stroke-dashoffset="-3.6"/>
<line x1="45.88" y1="439.12" x2="151.28" y2="439.12" stroke="#5f8a36" stroke-width="1.5" stroke-dasharray="1.4 4.4"/>
<line x1="45.88" y1="459.65" x2="151.28" y2="459.65" stroke="#a2a2a2" stroke-width="1.4" stroke-dasharray="1.3 3.1 1.3 9.8" stroke-dashoffset="-3.6"/>
<line x1="45.88" y1="459.65" x2="151.28" y2="459.65" stroke="#ec8f1c" stroke-width="1.5" stroke-dasharray="1.4 4.4"/>
<line x1="45.88" y1="449.64" x2="151.28" y2="449.64" stroke="#404040" stroke-width="1.35" stroke-dasharray="10.8 4.7"/>
<line x1="45.88" y1="449.64" x2="151.28" y2="449.64" stroke="#a3283e" stroke-width="1.4" stroke-dasharray="1.4 4.4"/>
<polyline fill="none" stroke="#5f8e7c" stroke-width="1.35" stroke-linejoin="round" points="46.28,405.31 52.08,397.04 57.88,417.83 63.68,428.35 69.48,433.36 75.28,434.11 81.08,437.61 86.88,442.12 92.68,446.63 98.48,457.15 104.28,465.16 110.08,471.67 115.88,472.68 121.68,473.93 127.48,475.18 133.28,474.68 139.08,475.93 144.88,468.42 150.68,457.65"/>
<line x1="35.2" y1="374.48" x2="35.2" y2="508.53" stroke="#3c3c3c" stroke-width="1.3"/>
<line x1="34.6" y1="507.93" x2="162.3" y2="507.93" stroke="#3c3c3c" stroke-width="1.3"/>
<line x1="30.9" y1="380.77" x2="35.2" y2="380.77" stroke="#3c3c3c" stroke-width="1.2"/>
<text transform="translate(27.5,380.77) rotate(-90) scale(0.985,1)" text-anchor="middle" font-size="9.8">0.00</text>
<line x1="30.9" y1="411.07" x2="35.2" y2="411.07" stroke="#3c3c3c" stroke-width="1.2"/>
<text transform="translate(27.5,411.07) rotate(-90) scale(0.985,1)" text-anchor="middle" font-size="9.8">-0.20</text>
<line x1="30.9" y1="441.37" x2="35.2" y2="441.37" stroke="#3c3c3c" stroke-width="1.2"/>
<text transform="translate(27.5,441.37) rotate(-90) scale(0.985,1)" text-anchor="middle" font-size="9.8">-0.40</text>
<line x1="30.9" y1="471.42" x2="35.2" y2="471.42" stroke="#3c3c3c" stroke-width="1.2"/>
<text transform="translate(27.5,471.42) rotate(-90) scale(0.985,1)" text-anchor="middle" font-size="9.8">-0.60</text>
<line x1="30.9" y1="501.48" x2="35.2" y2="501.48" stroke="#3c3c3c" stroke-width="1.2"/>
<text transform="translate(27.5,501.48) rotate(-90) scale(0.985,1)" text-anchor="middle" font-size="9.8">-0.80</text>
<line x1="40.48" y1="507.93" x2="40.48" y2="512.23" stroke="#3c3c3c" stroke-width="1.2"/>
<text transform="translate(40.48,522.18) scale(0.92,1)" text-anchor="middle" font-size="10">0</text>
<line x1="63.68" y1="507.93" x2="63.68" y2="512.23" stroke="#3c3c3c" stroke-width="1.2"/>
<text transform="translate(63.68,522.18) scale(0.92,1)" text-anchor="middle" font-size="10">.2</text>
<line x1="86.88" y1="507.93" x2="86.88" y2="512.23" stroke="#3c3c3c" stroke-width="1.2"/>
<text transform="translate(86.88,522.18) scale(0.92,1)" text-anchor="middle" font-size="10">.4</text>
<line x1="110.08" y1="507.93" x2="110.08" y2="512.23" stroke="#3c3c3c" stroke-width="1.2"/>
<text transform="translate(110.08,522.18) scale(0.92,1)" text-anchor="middle" font-size="10">.6</text>
<line x1="133.28" y1="507.93" x2="133.28" y2="512.23" stroke="#3c3c3c" stroke-width="1.2"/>
<text transform="translate(133.28,522.18) scale(0.92,1)" text-anchor="middle" font-size="10">.8</text>
<line x1="156.48" y1="507.93" x2="156.48" y2="512.23" stroke="#3c3c3c" stroke-width="1.2"/>
<text transform="translate(156.48,522.18) scale(0.92,1)" text-anchor="middle" font-size="10">1</text>
<text transform="translate(98.75,532.48) scale(0.92,1)" text-anchor="middle" font-size="10">Quantile</text>
<text transform="translate(17.9,441.68) rotate(-90) scale(0.985,1)" text-anchor="middle" font-size="9.8">REG</text>
</g>
<g>
<line x1="207.28" y1="381.02" x2="333.38" y2="381.02" stroke="#e5f0f0" stroke-width="1"/>
<line x1="207.28" y1="421.09" x2="333.38" y2="421.09" stroke="#e5f0f0" stroke-width="1"/>
<line x1="207.28" y1="461.16" x2="333.38" y2="461.16" stroke="#e5f0f0" stroke-width="1"/>
<line x1="207.28" y1="501.23" x2="333.38" y2="501.23" stroke="#e5f0f0" stroke-width="1"/>
<polygon fill="#d9d9d9" points="217.36,449.13 223.16,444.63 228.96,452.14 234.76,459.65 240.56,465.16 246.36,459.65 252.16,457.15 257.96,457.65 263.76,465.16 269.56,459.65 275.36,457.15 281.16,449.13 286.96,450.89 292.76,432.11 298.56,435.86 304.36,429.1 310.16,412.57 315.96,410.07 321.76,404.06 321.76,473.43 315.96,464.66 310.16,463.41 304.36,474.68 298.56,475.93 292.76,477.18 286.96,479.69 281.16,488.45 275.36,498.47 269.56,492.21 263.76,500.22 257.96,496.72 252.16,492.21 246.36,487.7 240.56,490.96 234.76,488.45 228.96,485.95 223.16,471.67 217.36,477.18"/>
<line x1="216.96" y1="441.62" x2="322.36" y2="441.62" stroke="#a2a2a2" stroke-width="1.4" stroke-dasharray="1.3 3.1 1.3 9.8" stroke-dashoffset="-3.6"/>
<line x1="216.96" y1="441.62" x2="322.36" y2="441.62" stroke="#5f8a36" stroke-width="1.5" stroke-dasharray="1.4 4.4"/>
<line x1="216.96" y1="477.68" x2="322.36" y2="477.68" stroke="#a2a2a2" stroke-width="1.4" stroke-dasharray="1.3 3.1 1.3 9.8" stroke-dashoffset="-3.6"/>
<line x1="216.96" y1="477.68" x2="322.36" y2="477.68" stroke="#ec8f1c" stroke-width="1.5" stroke-dasharray="1.4 4.4"/>
<line x1="216.96" y1="459.65" x2="322.36" y2="459.65" stroke="#404040" stroke-width="1.35" stroke-dasharray="10.8 4.7"/>
<line x1="216.96" y1="459.65" x2="322.36" y2="459.65" stroke="#a3283e" stroke-width="1.4" stroke-dasharray="1.4 4.4"/>
<polyline fill="none" stroke="#5f8e7c" stroke-width="1.35" stroke-linejoin="round" points="217.36,464.16 223.16,457.15 228.96,468.42 234.76,474.18 240.56,477.68 246.36,473.43 252.16,474.68 257.96,477.18 263.76,482.69 269.56,475.43 275.36,478.44 281.16,469.17 286.96,465.16 292.76,455.15 298.56,455.9 304.36,451.64 310.16,438.37 315.96,437.61 321.76,439.12"/>
<line x1="206.28" y1="374.48" x2="206.28" y2="508.53" stroke="#3c3c3c" stroke-width="1.3"/>
<line x1="205.68" y1="507.93" x2="333.38" y2="507.93" stroke="#3c3c3c" stroke-width="1.3"/>
<line x1="201.98" y1="381.02" x2="206.28" y2="381.02" stroke="#3c3c3c" stroke-width="1.2"/>
<text transform="translate(198.58,381.02) rotate(-90) scale(0.985,1)" text-anchor="middle" font-size="9.8">0.10</text>
<line x1="201.98" y1="421.09" x2="206.28" y2="421.09" stroke="#3c3c3c" stroke-width="1.2"/>
<text transform="translate(198.58,421.09) rotate(-90) scale(0.985,1)" text-anchor="middle" font-size="9.8">0.05</text>
<line x1="201.98" y1="461.16" x2="206.28" y2="461.16" stroke="#3c3c3c" stroke-width="1.2"/>
<text transform="translate(198.58,461.16) rotate(-90) scale(0.985,1)" text-anchor="middle" font-size="9.8">0.00</text>
<line x1="201.98" y1="501.23" x2="206.28" y2="501.23" stroke="#3c3c3c" stroke-width="1.2"/>
<text transform="translate(198.58,501.23) rotate(-90) scale(0.985,1)" text-anchor="middle" font-size="9.8">-0.05</text>
<line x1="211.56" y1="507.93" x2="211.56" y2="512.23" stroke="#3c3c3c" stroke-width="1.2"/>
<text transform="translate(211.56,522.18) scale(0.92,1)" text-anchor="middle" font-size="10">0</text>
<line x1="234.76" y1="507.93" x2="234.76" y2="512.23" stroke="#3c3c3c" stroke-width="1.2"/>
<text transform="translate(234.76,522.18) scale(0.92,1)" text-anchor="middle" font-size="10">.2</text>
<line x1="257.96" y1="507.93" x2="257.96" y2="512.23" stroke="#3c3c3c" stroke-width="1.2"/>
<text transform="translate(257.96,522.18) scale(0.92,1)" text-anchor="middle" font-size="10">.4</text>
<line x1="281.16" y1="507.93" x2="281.16" y2="512.23" stroke="#3c3c3c" stroke-width="1.2"/>
<text transform="translate(281.16,522.18) scale(0.92,1)" text-anchor="middle" font-size="10">.6</text>
<line x1="304.36" y1="507.93" x2="304.36" y2="512.23" stroke="#3c3c3c" stroke-width="1.2"/>
<text transform="translate(304.36,522.18) scale(0.92,1)" text-anchor="middle" font-size="10">.8</text>
<line x1="327.56" y1="507.93" x2="327.56" y2="512.23" stroke="#3c3c3c" stroke-width="1.2"/>
<text transform="translate(327.56,522.18) scale(0.92,1)" text-anchor="middle" font-size="10">1</text>
<text transform="translate(269.83,532.48) scale(0.92,1)" text-anchor="middle" font-size="10">Quantile</text>
<text transform="translate(188.98,441.68) rotate(-90) scale(0.985,1)" text-anchor="middle" font-size="9.8">INF</text>
</g>
<g>
<line x1="378.36" y1="381.02" x2="504.46" y2="381.02" stroke="#e5f0f0" stroke-width="1"/>
<line x1="378.36" y1="421.09" x2="504.46" y2="421.09" stroke="#e5f0f0" stroke-width="1"/>
<line x1="378.36" y1="461.16" x2="504.46" y2="461.16" stroke="#e5f0f0" stroke-width="1"/>
<line x1="378.36" y1="501.23" x2="504.46" y2="501.23" stroke="#e5f0f0" stroke-width="1"/>
<polygon fill="#d9d9d9" points="388.44,457.15 394.24,470.92 400.04,435.86 405.84,424.59 411.64,423.34 417.44,425.84 423.24,424.59 429.04,419.08 434.84,416.58 440.64,412.07 446.44,406.56 452.24,402.55 458.04,402.55 463.84,397.04 469.64,390.78 475.44,393.29 481.24,394.54 487.04,403.3 492.84,427.6 492.84,447.13 487.04,424.59 481.24,414.57 475.44,412.57 469.64,410.82 463.84,414.57 458.04,414.57 452.24,422.09 446.44,426.6 440.64,430.85 434.84,434.61 429.04,437.61 423.24,442.62 417.44,440.87 411.64,438.37 405.84,439.62 400.04,454.64 394.24,490.96 388.44,487.7"/>
<line x1="388.04" y1="418.08" x2="493.44" y2="418.08" stroke="#a2a2a2" stroke-width="1.4" stroke-dasharray="1.3 3.1 1.3 9.8" stroke-dashoffset="-3.6"/>
<line x1="388.04" y1="418.08" x2="493.44" y2="418.08" stroke="#5f8a36" stroke-width="1.5" stroke-dasharray="1.4 4.4"/>
<line x1="388.04" y1="439.12" x2="493.44" y2="439.12" stroke="#a2a2a2" stroke-width="1.4" stroke-dasharray="1.3 3.1 1.3 9.8" stroke-dashoffset="-3.6"/>
<line x1="388.04" y1="439.12" x2="493.44" y2="439.12" stroke="#ec8f1c" stroke-width="1.5" stroke-dasharray="1.4 4.4"/>
<line x1="388.04" y1="428.6" x2="493.44" y2="428.6" stroke="#404040" stroke-width="1.35" stroke-dasharray="10.8 4.7"/>
<line x1="388.04" y1="428.6" x2="493.44" y2="428.6" stroke="#a3283e" stroke-width="1.4" stroke-dasharray="1.4 4.4"/>
<polyline fill="none" stroke="#5f8e7c" stroke-width="1.35" stroke-linejoin="round" points="388.44,472.68 394.24,480.94 400.04,444.63 405.84,432.61 411.64,430.85 417.44,432.86 423.24,432.86 429.04,427.6 434.84,425.09 440.64,420.84 446.44,416.58 452.24,412.57 458.04,408.31 463.84,405.81 469.64,401.3 475.44,404.06 481.24,405.06 487.04,414.57 492.84,437.61"/>
<line x1="377.36" y1="374.48" x2="377.36" y2="508.53" stroke="#3c3c3c" stroke-width="1.3"/>
<line x1="376.76" y1="507.93" x2="504.46" y2="507.93" stroke="#3c3c3c" stroke-width="1.3"/>
<line x1="373.06" y1="381.02" x2="377.36" y2="381.02" stroke="#3c3c3c" stroke-width="1.2"/>
<text transform="translate(369.66,381.02) rotate(-90) scale(0.985,1)" text-anchor="middle" font-size="9.8">4.00</text>
<line x1="373.06" y1="421.09" x2="377.36" y2="421.09" stroke="#3c3c3c" stroke-width="1.2"/>
<text transform="translate(369.66,421.09) rotate(-90) scale(0.985,1)" text-anchor="middle" font-size="9.8">2.00</text>
<line x1="373.06" y1="461.16" x2="377.36" y2="461.16" stroke="#3c3c3c" stroke-width="1.2"/>
<text transform="translate(369.66,461.16) rotate(-90) scale(0.985,1)" text-anchor="middle" font-size="9.8">0.00</text>
<line x1="373.06" y1="501.23" x2="377.36" y2="501.23" stroke="#3c3c3c" stroke-width="1.2"/>
<text transform="translate(369.66,501.23) rotate(-90) scale(0.985,1)" text-anchor="middle" font-size="9.8">-2.00</text>
<line x1="382.64" y1="507.93" x2="382.64" y2="512.23" stroke="#3c3c3c" stroke-width="1.2"/>
<text transform="translate(382.64,522.18) scale(0.92,1)" text-anchor="middle" font-size="10">0</text>
<line x1="405.84" y1="507.93" x2="405.84" y2="512.23" stroke="#3c3c3c" stroke-width="1.2"/>
<text transform="translate(405.84,522.18) scale(0.92,1)" text-anchor="middle" font-size="10">.2</text>
<line x1="429.04" y1="507.93" x2="429.04" y2="512.23" stroke="#3c3c3c" stroke-width="1.2"/>
<text transform="translate(429.04,522.18) scale(0.92,1)" text-anchor="middle" font-size="10">.4</text>
<line x1="452.24" y1="507.93" x2="452.24" y2="512.23" stroke="#3c3c3c" stroke-width="1.2"/>
<text transform="translate(452.24,522.18) scale(0.92,1)" text-anchor="middle" font-size="10">.6</text>
<line x1="475.44" y1="507.93" x2="475.44" y2="512.23" stroke="#3c3c3c" stroke-width="1.2"/>
<text transform="translate(475.44,522.18) scale(0.92,1)" text-anchor="middle" font-size="10">.8</text>
<line x1="498.64" y1="507.93" x2="498.64" y2="512.23" stroke="#3c3c3c" stroke-width="1.2"/>
<text transform="translate(498.64,522.18) scale(0.92,1)" text-anchor="middle" font-size="10">1</text>
<text transform="translate(440.91,532.48) scale(0.92,1)" text-anchor="middle" font-size="10">Quantile</text>
<text transform="translate(360.06,441.68) rotate(-90) scale(0.985,1)" text-anchor="middle" font-size="9.8">ESG</text>
</g>
</svg></body></html>
